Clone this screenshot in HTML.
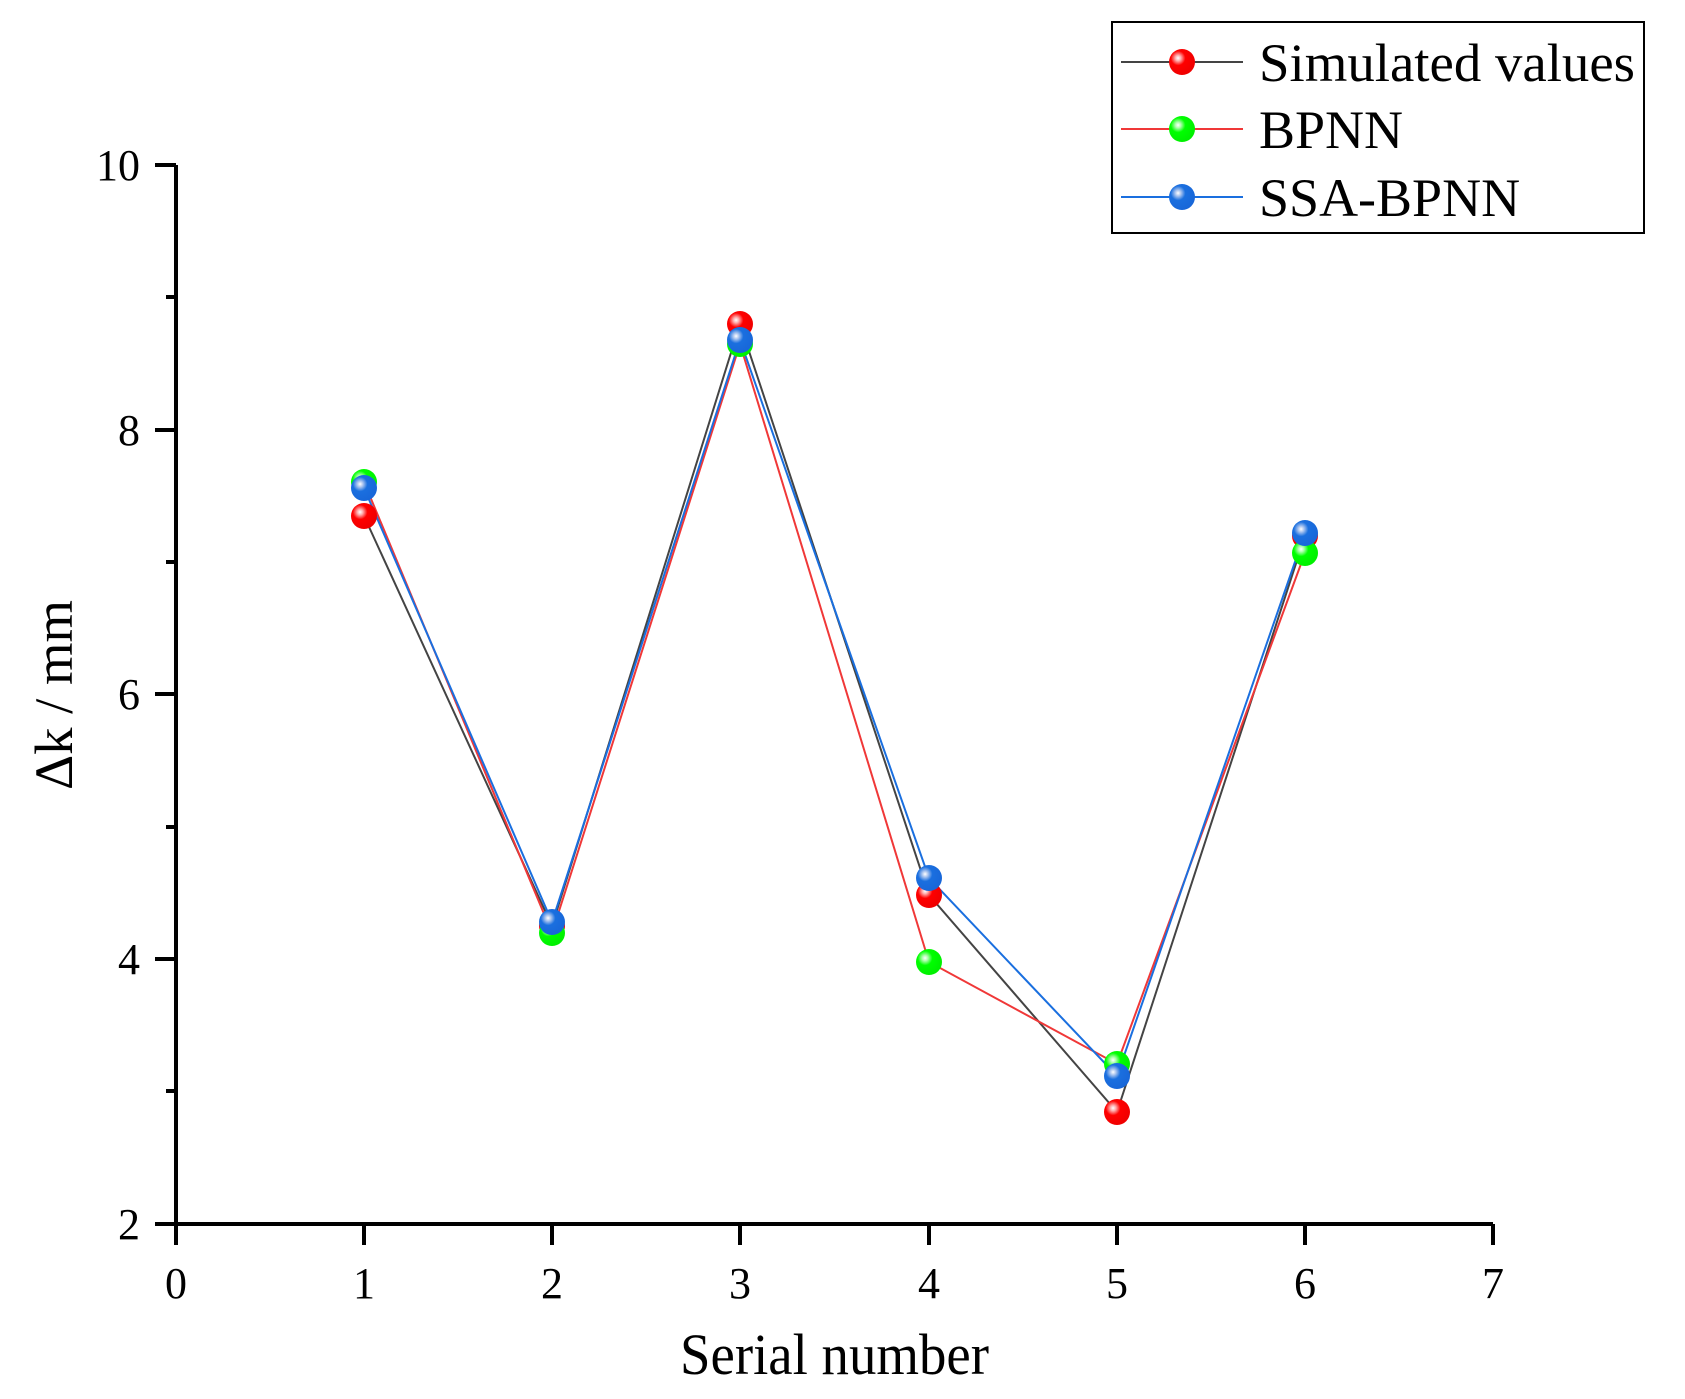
<!DOCTYPE html>
<html><head><meta charset="utf-8"><style>html,body{margin:0;padding:0;background:#fff}svg{display:block}</style></head>
<body>
<svg width="1685" height="1399" viewBox="0 0 1685 1399" xmlns="http://www.w3.org/2000/svg" font-family="Liberation Serif, serif">
<defs>
<radialGradient id="gr" cx="0.35" cy="0.35" r="0.7"><stop offset="0" stop-color="#fff"/><stop offset="0.15" stop-color="#ffb0b0"/><stop offset="0.4" stop-color="#ff0000"/><stop offset="1" stop-color="#ee0000"/></radialGradient>
<radialGradient id="gg" cx="0.35" cy="0.35" r="0.7"><stop offset="0" stop-color="#fff"/><stop offset="0.15" stop-color="#b0ffb0"/><stop offset="0.4" stop-color="#00ff00"/><stop offset="1" stop-color="#00ee00"/></radialGradient>
<radialGradient id="gb" cx="0.35" cy="0.35" r="0.7"><stop offset="0" stop-color="#fff"/><stop offset="0.15" stop-color="#b0c8f0"/><stop offset="0.4" stop-color="#1a6fdf"/><stop offset="1" stop-color="#1866d8"/></radialGradient>
</defs>
<g stroke="#000" stroke-width="4" fill="none">
<path d="M176,165 V1224 H1493"/>
<path d="M155,165 H176 M155,430 H176 M155,694 H176 M155,959 H176 M155,1224 H176"/>
<path d="M166,297 H176 M166,562 H176 M166,827 H176 M166,1091 H176"/>
<path d="M176,1224 V1245 M364,1224 V1245 M552,1224 V1245 M740,1224 V1245 M929,1224 V1245 M1117,1224 V1245 M1305,1224 V1245 M1493,1224 V1245"/>
</g>
<g font-size="44" text-anchor="end">
<text x="140" y="180">10</text><text x="140" y="445">8</text><text x="140" y="709">6</text><text x="140" y="974">4</text><text x="140" y="1239">2</text>
</g>
<g font-size="44" text-anchor="middle">
<text x="176" y="1298">0</text><text x="364" y="1298">1</text><text x="552" y="1298">2</text><text x="740" y="1298">3</text><text x="929" y="1298">4</text><text x="1117" y="1298">5</text><text x="1305" y="1298">6</text><text x="1493" y="1298">7</text>
</g>
<text x="680" y="1374" font-size="58" textLength="309" lengthAdjust="spacingAndGlyphs">Serial number</text>
<text transform="translate(72,790) rotate(-90)" font-size="54" textLength="190" lengthAdjust="spacingAndGlyphs">Δk / mm</text>
<g fill="none" stroke-width="2">
<polyline stroke="#444" points="364,516 552,926 740,324 929,895 1117,1112 1305,536"/>
<polyline stroke="#f03838" points="364,482 552,933 740,344 929,962 1117,1064 1305,553"/>
<polyline stroke="#1a6fdf" points="364,488 552,922 740,340 929,878 1117,1076 1305,533"/>
</g>
<g fill="url(#gr)">
<circle cx="364" cy="516" r="13"/><circle cx="552" cy="926" r="13"/><circle cx="740" cy="324" r="13"/><circle cx="929" cy="895" r="13"/><circle cx="1117" cy="1112" r="13"/><circle cx="1305" cy="536" r="13"/>
</g>
<g fill="url(#gg)">
<circle cx="364" cy="482" r="13"/><circle cx="552" cy="933" r="13"/><circle cx="740" cy="344" r="13"/><circle cx="929" cy="962" r="13"/><circle cx="1117" cy="1064" r="13"/><circle cx="1305" cy="553" r="13"/>
</g>
<g fill="url(#gb)">
<circle cx="364" cy="488" r="13"/><circle cx="552" cy="922" r="13"/><circle cx="740" cy="340" r="13"/><circle cx="929" cy="878" r="13"/><circle cx="1117" cy="1076" r="13"/><circle cx="1305" cy="533" r="13"/>
</g>
<rect x="1112" y="22" width="532" height="211" fill="#fff" stroke="#000" stroke-width="2"/>
<g stroke-width="2">
<line x1="1121" y1="62" x2="1243" y2="62" stroke="#444"/>
<line x1="1121" y1="129" x2="1243" y2="129" stroke="#f03838"/>
<line x1="1121" y1="197" x2="1243" y2="197" stroke="#1a6fdf"/>
</g>
<circle cx="1182" cy="62" r="13" fill="url(#gr)"/>
<circle cx="1182" cy="129" r="13" fill="url(#gg)"/>
<circle cx="1182" cy="197" r="13" fill="url(#gb)"/>
<g font-size="54">
<text x="1259" y="81" textLength="376" lengthAdjust="spacingAndGlyphs">Simulated values</text>
<text x="1259" y="148">BPNN</text>
<text x="1259" y="216">SSA-BPNN</text>
</g>
</svg>
</body></html>
